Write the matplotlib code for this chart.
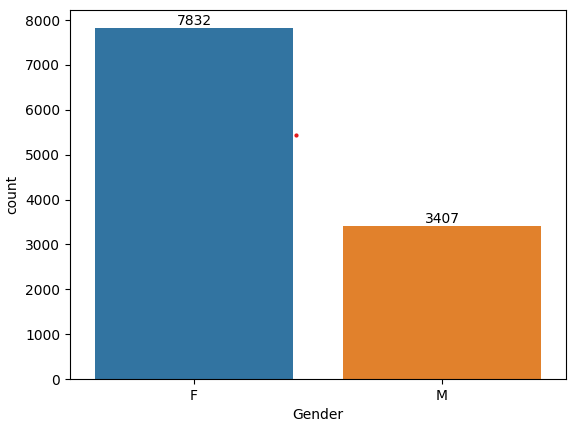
import matplotlib
matplotlib.use("Agg")
import matplotlib.pyplot as plt

categories = ["F", "M"]
counts = [7832, 3407]
colors = ["#3274a1", "#e1812c"]
dot_x = [0.41]
dot_y = [5430]

fig = plt.figure(figsize=(5.87, 4.36), dpi=100)
ax = fig.add_axes([70/587, 57/436, 496/587, 369/436])
x = list(range(len(categories)))
bars = ax.bar(x, counts, width=0.8, color=colors)
ax.bar_label(bars, labels=[str(c) for c in counts])
ax.scatter(dot_x, dot_y, s=4, color="#e41a1c", zorder=5)
ax.set_xticks(x)
ax.set_xticklabels(categories)
ax.set_xlim(-0.5, 1.5)
ax.set_ylim(0, 8223.6)
ax.set_xlabel("Gender")
ax.set_ylabel("count")
fig.savefig("out.png", dpi=100)
